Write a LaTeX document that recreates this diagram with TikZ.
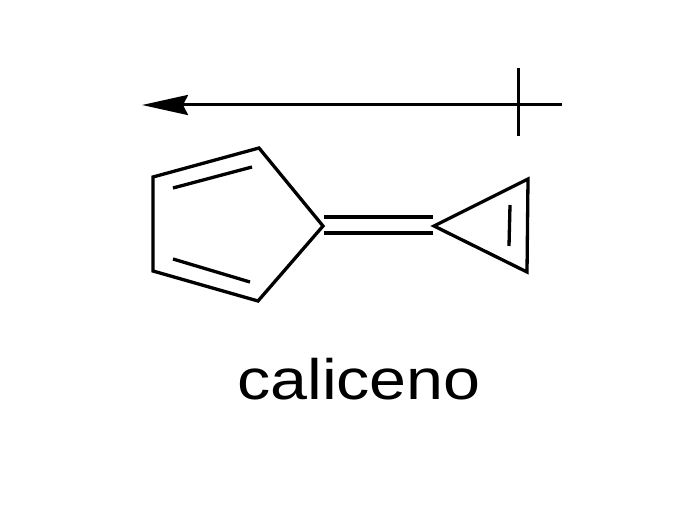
\documentclass[tikz,border=0pt]{standalone}
\usepackage{fontspec}
\setmainfont{Liberation Sans}
\usetikzlibrary{arrows.meta}

\begin{document}
\begin{tikzpicture}[x=1pt,y=-1pt,
        bond/.style={line width=3.3pt, line cap=butt, line join=miter},
        dipole/.style={line width=3pt},
        every node/.style={inner sep=0pt}
    ]
    \useasboundingbox (0,0) rectangle (700,513);

    % Ring atoms
    \coordinate (c1) at (153,177);
    \coordinate (c2) at (259,148);
    \coordinate (c3) at (323,226);
    \coordinate (c4) at (258,301);
    \coordinate (c5) at (153,271);
    \coordinate (c6) at (434,226);
    \coordinate (c7) at (528,179);
    \coordinate (c8) at (527,272);

    % Inner bonds
    \coordinate (d1a) at (173,188);
    \coordinate (d1b) at (252,167);
    \coordinate (d2a) at (173,259);
    \coordinate (d2b) at (250,282);
    \coordinate (d3a) at (510,205);
    \coordinate (d3b) at (509,246);
    \coordinate (e1a) at (324,217);
    \coordinate (e1b) at (433,217);
    \coordinate (e2a) at (324,233);
    \coordinate (e2b) at (433,233);

    % Dipole
    \coordinate (tail) at (562,105);
    \coordinate (head) at (142,105);
    \coordinate (tick1) at (518,68);
    \coordinate (tick2) at (518,136);

    \draw[bond] (c1) -- (c2) -- (c3) -- (c4) -- (c5) -- cycle;
    \draw[bond] (c6) -- (c7) -- (c8) -- cycle;
    \draw[bond] (d1a) -- (d1b);
    \draw[bond] (d2a) -- (d2b);
    \draw[bond] (d3a) -- (d3b);
    \draw[bond] (e1a) -- (e1b);
    \draw[bond] (e2a) -- (e2b);
    \draw[dipole, -{Stealth[length=46pt,width=20pt,inset=5pt]}] (tail) -- (head);
    \draw[dipole] (tick1) -- (tick2);

    \node[xscale=1.165, anchor=base] (name) at (359,399) {\fontsize{57}{62}\selectfont caliceno};
\end{tikzpicture}
\end{document}
